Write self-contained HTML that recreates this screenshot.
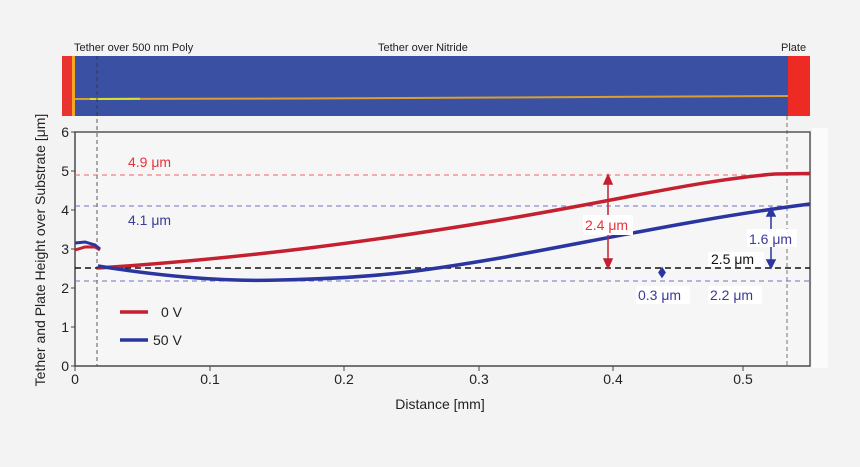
<!DOCTYPE html>
<html><head><meta charset="utf-8"><style>
body{margin:0;background:#f3f3f3;}
svg{display:block;font-family:"Liberation Sans",sans-serif;}
</style></head><body>
<svg width="860" height="467" viewBox="0 0 860 467">
<rect width="860" height="467" fill="#f3f3f3"/>
<rect x="812" y="128" width="16" height="240" fill="#fbfbfb"/>
<!-- heatmap -->
<rect x="62" y="56" width="748" height="60" fill="#3a50a2"/>
<rect x="62" y="56" width="10" height="60" fill="#e8332e"/>
<rect x="72" y="56" width="3" height="60" fill="#f5a623"/>
<rect x="788" y="56" width="22" height="60" fill="#ee2a25"/>
<path d="M75 99 L300 98.5 L500 97.5 L788 96" stroke="#d8a030" stroke-width="2" fill="none"/>
<path d="M90 99 L140 98.8" stroke="#d6e030" stroke-width="2"/>
<text x="74" y="51" font-size="11" fill="#222">Tether over 500 nm Poly</text>
<text x="378" y="51" font-size="11" fill="#222">Tether over Nitride</text>
<text x="781" y="51" font-size="11" fill="#222">Plate</text>
<!-- plot area -->
<rect x="75" y="132" width="735" height="234" fill="#f6f6f6" stroke="#555" stroke-width="1.5"/>
<g stroke="#444" stroke-width="1">
<line x1="75" y1="132" x2="75" y2="366"/>
<line x1="75" y1="366" x2="810" y2="366"/>
</g>
<g font-size="14" fill="#222" text-anchor="end">
<text x="69" y="371">0</text><text x="69" y="332">1</text><text x="69" y="293">2</text><text x="69" y="254">3</text><text x="69" y="215">4</text><text x="69" y="176">5</text><text x="69" y="137">6</text>
</g>
<g font-size="14" fill="#222" text-anchor="middle">
<text x="75" y="384">0</text><text x="210" y="384">0.1</text><text x="344" y="384">0.2</text><text x="479" y="384">0.3</text><text x="613" y="384">0.4</text><text x="743" y="384">0.5</text>
</g>
<g stroke="#444">
<path d="M75 366h-4M75 327h-4M75 288h-4M75 249h-4M75 210h-4M75 171h-4M75 132h-4"/>
<path d="M75 366v5M210 366v5M344 366v5M479 366v5M613 366v5M743 366v5"/>
</g>
<text x="440" y="409" font-size="14" text-anchor="middle" fill="#222">Distance [mm]</text>
<text transform="translate(45,250) rotate(-90)" font-size="14" text-anchor="middle" fill="#222">Tether and Plate Height over Substrate [μm]</text>
<!-- guide lines -->
<line x1="97" y1="56" x2="97" y2="366" stroke="#333" stroke-dasharray="4,3" stroke-width="0.8"/>
<line x1="787" y1="116" x2="787" y2="366" stroke="#555" stroke-dasharray="4,3" stroke-width="0.8"/>
<line x1="75" y1="175" x2="810" y2="175" stroke="#f06060" stroke-dasharray="5,4" stroke-width="1"/>
<line x1="75" y1="206" x2="810" y2="206" stroke="#7070c8" stroke-dasharray="5,4" stroke-width="1"/>
<line x1="75" y1="268" x2="810" y2="268" stroke="#111" stroke-dasharray="6,4" stroke-width="1.5"/>
<line x1="75" y1="281" x2="810" y2="281" stroke="#7070c8" stroke-dasharray="5,4" stroke-width="1"/>
<text x="128" y="167" font-size="14" fill="#e8333a">4.9 μm</text>
<text x="128" y="225" font-size="14" fill="#3a3a9a">4.1 μm</text>
<!-- curves -->
<path d="M75 250 L85 247 L95 247 L100 250" stroke="#c42030" stroke-width="3" fill="none"/>
<path d="M75 243 L85 242 L95 245 L100 249" stroke="#2a35a0" stroke-width="3" fill="none"/>
<path d="M98 268 C250 258 380 240 500 220 S 700 180 775 174 L810 173.5" stroke="#c42030" stroke-width="3.5" fill="none"/>
<path d="M98 266 C160 276 220 282 280 280 C380 278 430 270 500 258 C600 240 700 218 810 204" stroke="#2a35a0" stroke-width="3.5" fill="none"/>
<!-- annotations -->
<g stroke="#c42030" stroke-width="1.5" fill="#c42030">
<line x1="608" y1="180" x2="608" y2="263"/>
<path d="M608 175 l-4 9 h8z"/><path d="M608 268 l-4 -9 h8z"/>
</g>
<rect x="583" y="215" width="50" height="20" fill="#fff"/>
<text x="585" y="230" font-size="14" fill="#e8333a">2.4 μm</text>
<g stroke="#2a35a0" stroke-width="1.5" fill="#2a35a0">
<line x1="771" y1="212" x2="771" y2="263"/>
<path d="M771 208 l-4 8 h8z"/><path d="M771 268 l-4 -8 h8z"/>
<path d="M662 268 l-3 4.5 l3 4.5 l3 -4.5z"/>
</g>
<rect x="747" y="229" width="50" height="18" fill="#fff"/>
<text x="749" y="244" font-size="14" fill="#3a3a9a">1.6 μm</text>
<rect x="708" y="252" width="56" height="15" fill="#fff"/>
<text x="711" y="264" font-size="14" fill="#111">2.5 μm</text>
<rect x="636" y="286" width="54" height="18" fill="#fff"/>
<text x="638" y="300" font-size="14" fill="#3a3a9a">0.3 μm</text>
<rect x="708" y="286" width="54" height="18" fill="#fff"/>
<text x="710" y="300" font-size="14" fill="#3a3a9a">2.2 μm</text>
<!-- legend -->
<line x1="120" y1="312" x2="148" y2="312" stroke="#c42030" stroke-width="3.5"/>
<text x="161" y="317" font-size="14" fill="#222">0 V</text>
<line x1="120" y1="340" x2="148" y2="340" stroke="#2a35a0" stroke-width="3.5"/>
<text x="153" y="345" font-size="14" fill="#222">50 V</text>
</svg>
</body></html>
